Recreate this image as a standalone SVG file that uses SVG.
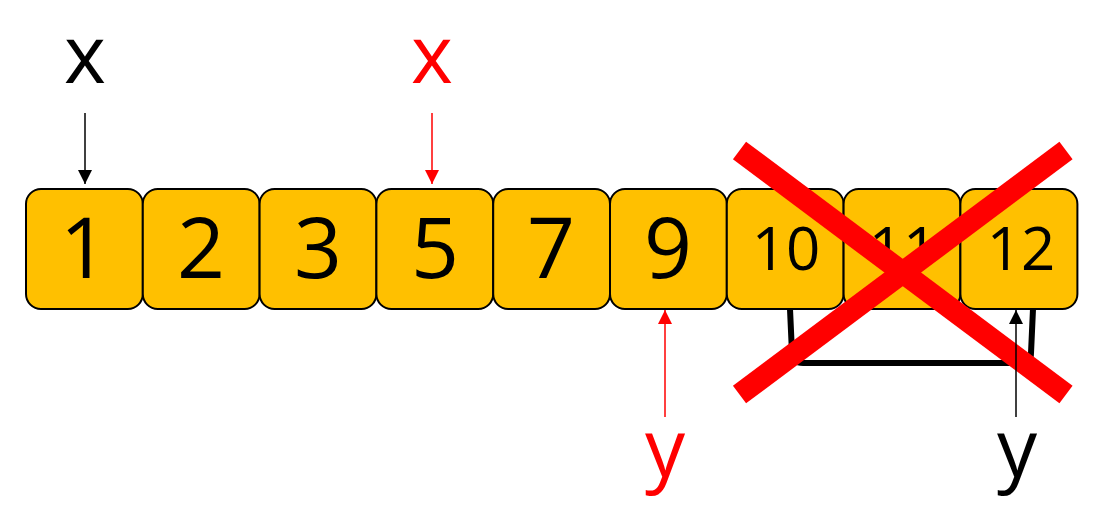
<svg xmlns="http://www.w3.org/2000/svg" width="1099" height="511" viewBox="0 0 1099 511">
<style>
.box{fill:#FFC000;stroke:#000;stroke-width:2}
.num{font-family:"Open Sans","Noto Sans",sans-serif;font-size:84px;text-anchor:middle;fill:#000}
.num2{font-family:"Open Sans","Noto Sans",sans-serif;font-size:60px;text-anchor:middle;fill:#000}
.lbl{font-family:"Open Sans","Noto Sans",sans-serif;font-size:80px;text-anchor:middle}
</style>
<defs>
<marker id="ab" viewBox="0 0 10 10" refX="10" refY="5" markerWidth="14" markerHeight="14" markerUnits="userSpaceOnUse" orient="auto"><path d="M0,0 L10,5 L0,10 z" fill="#000"/></marker>
<marker id="ar" viewBox="0 0 10 10" refX="10" refY="5" markerWidth="14" markerHeight="14" markerUnits="userSpaceOnUse" orient="auto"><path d="M0,0 L10,5 L0,10 z" fill="#f00"/></marker>
</defs>
<g id="n1"><rect class="box" x="26" y="189" width="116.8" height="120" rx="15"/><text class="num" x="84" y="278">1</text></g>
<g id="n2"><rect class="box" x="142.8" y="189" width="116.8" height="120" rx="15"/><text class="num" x="201" y="278">2</text></g>
<g id="n3"><rect class="box" x="259.6" y="189" width="116.8" height="120" rx="15"/><text class="num" x="318" y="278">3</text></g>
<g id="n5"><rect class="box" x="376.4" y="189" width="116.8" height="120" rx="15"/><text class="num" x="435" y="278">5</text></g>
<g id="n7"><rect class="box" x="493.2" y="189" width="116.8" height="120" rx="15"/><text class="num" x="551" y="278">7</text></g>
<g id="n9"><rect class="box" x="610" y="189" width="116.8" height="120" rx="15"/><text class="num" x="668" y="278">9</text></g>
<g id="n10"><rect class="box" x="726.8" y="189" width="116.8" height="120" rx="15"/><text class="num2" x="786" y="270">10</text></g>
<g id="n11"><rect class="box" x="843.6" y="189" width="116.8" height="120" rx="15"/><text class="num2" x="903" y="270">11</text></g>
<g id="n12"><rect class="box" x="960.4" y="189" width="117" height="120" rx="15"/><text class="num2" x="1021" y="270">12</text></g>
<g id="connectors">
<path d="M790,309 L792,353 Q793,363 803,363 L1021,363 Q1031,363 1031,353 L1033,309" fill="none" stroke="#000" stroke-width="6"/>
<g id="cross" stroke="#f00" stroke-width="22">
<line x1="739.5" y1="150.5" x2="1066" y2="394.5"/>
<line x1="1066" y1="150.5" x2="739.5" y2="394.5"/>
</g>
<line x1="85" y1="113" x2="85" y2="184" stroke="#000" stroke-width="1.5" marker-end="url(#ab)"/>
<line x1="432" y1="113" x2="432" y2="184" stroke="#f00" stroke-width="1.5" marker-end="url(#ar)"/>
<line x1="665" y1="417" x2="665" y2="310" stroke="#f00" stroke-width="1.5" marker-end="url(#ar)"/>
<line x1="1016" y1="417" x2="1016" y2="310" stroke="#000" stroke-width="1.5" marker-end="url(#ab)"/>
</g>
<g id="labels">
<text class="lbl" x="85" y="83" fill="#000">x</text>
<text class="lbl" x="432" y="83" fill="#f00">x</text>
<text class="lbl" x="665" y="477" fill="#f00">y</text>
<text class="lbl" x="1017" y="477" fill="#000">y</text>
</g>
</svg>
